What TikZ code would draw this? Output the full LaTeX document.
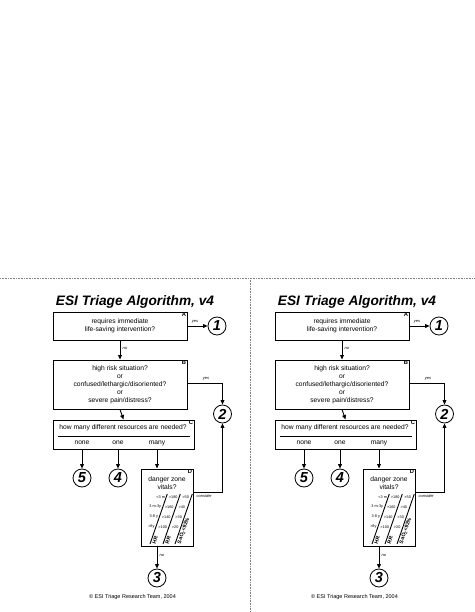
\documentclass[tikz,border=0pt]{standalone}
\usepackage{fontspec}
\setmainfont{Liberation Sans}
\usetikzlibrary{arrows.meta}
\tikzset{
 qbox/.style={draw, line width=1pt, inner sep=0pt, align=center, font=\fontsize{6.7}{8}\selectfont},
 corner/.style={anchor=north east, inner sep=1.2pt, font=\fontsize{5.8}{5.8}\selectfont\bfseries},
 num/.style={circle, draw, line width=0.8pt, minimum size=18pt, inner sep=0pt, font=\fontsize{14.5}{14.5}\selectfont\bfseries\itshape},
 arr/.style={-{Triangle[length=4.5pt,width=3.8pt]}, line width=0.9pt},
 tag/.style={font=\fontsize{4}{4}\selectfont\itshape, inner sep=0.5pt},
 txt/.style={font=\fontsize{6.7}{8}\selectfont, inner sep=0pt, align=center},
 vit/.style={font=\fontsize{3.8}{4}\selectfont, inner sep=0pt},
 vlab/.style={font=\fontsize{5.3}{5.3}\selectfont\bfseries, inner sep=0pt, rotate=71, anchor=north west},
 cut/.style={gray, line width=0.8pt, dash pattern=on 0.7pt off 0.9pt},
 diag/.style={line width=0.9pt},
}
\begin{document}
\begin{tikzpicture}[x=1pt,y=-1pt]
\useasboundingbox (0,0) rectangle (474,612);
\coordinate (h0) at (0,278);
\coordinate (h1) at (474,278);
\coordinate (v0) at (250,278);
\coordinate (v1) at (250,612);
\draw[cut] (h0) -- (h1);
\draw[cut] (v0) -- (v1);
\foreach \ox/\s in {0/L,222/R}{
\begin{scope}[xshift=\ox pt]
\node[font=\fontsize{13.7}{13.7}\selectfont\bfseries\itshape, anchor=base, inner sep=0pt] (title\s) at (135,305) {ESI Triage Algorithm, v4};
% boxes
\node[qbox, minimum width=134pt, minimum height=28pt] (A\s) at (120,326) {requires immediate\\life-saving intervention?};
\node[corner] (Al\s) at (A\s.north east) {A};
\node[qbox, minimum width=134pt, minimum height=49pt] (B\s) at (120,384.5) {high risk situation?\\or\\confused/lethargic/disoriented?\\or\\severe pain/distress?};
\node[corner] (Bl\s) at (B\s.north east) {B};
\node[qbox, minimum width=141pt, minimum height=29pt] (C\s) at (123.5,434.5) {};
\node[corner] (Cl\s) at (C\s.north east) {C};
\node[txt] (Cq\s) at (123,428) {how many different resources are needed?};
\draw[line width=0.6pt] (58,436) -- (190,436);
\node[txt] (no\s) at (82,443) {none};
\node[txt] (on\s) at (118,443) {one};
\node[txt] (m\s) at (157,443) {many};
\node[qbox, minimum width=52pt, minimum height=77pt] (D\s) at (167,507.5) {};
\node[corner] (Dl\s) at (D\s.north east) {D};
\node[txt] (Dq\s) at (167,483) {danger zone\\vitals?};
% vitals table
\draw[diag] (150,544) -- (167.3,494);
\draw[diag] (163,544) -- (180.3,494);
\draw[diag] (175,544) -- (192.3,494);
\node[vit, anchor=east] (r1\s) at (165.2,497) {<3 m};
\node[vit, anchor=east] (r2\s) at (161.3,507) {3 m-3y};
\node[vit, anchor=east] (r3\s) at (158.2,517) {3-8 y};
\node[vit, anchor=east] (r4\s) at (154.7,527) {>8y};
\node[vit] (h1\s) at (173.2,497) {>180};
\node[vit] (h2\s) at (169.3,507) {>160};
\node[vit] (h3\s) at (166.2,517) {>140};
\node[vit] (h4\s) at (162.7,527) {>100};
\node[vit] (s1\s) at (185.7,497) {>50};
\node[vit] (s2\s) at (181.8,507) {>40};
\node[vit] (s3\s) at (178.7,517) {>30};
\node[vit] (s4\s) at (175.2,527) {>20};
\node[vlab] (HR\s) at (151.8,543) {HR};
\node[vlab] (RR\s) at (164.8,543) {RR};
\node[vlab] (Sa\s) at (176.8,543) {SaO\textsubscript{2}<92\%};
% circles
\node[num] (c1\s) at (217,326) {1};
\node[num] (c2\s) at (222.5,414) {2};
\node[num] (c5\s) at (82,478) {5};
\node[num] (c4\s) at (118,478) {4};
\node[num] (c3\s) at (157,578) {3};
% connectors
\draw[arr] (A\s.south) -- (B\s.north);
\node[tag, anchor=west] (tn1\s) at (122,348) {no};
\draw[arr] (A\s.east) -- (c1\s.west);
\node[tag] (ty1\s) at (195,322) {yes};
\draw[arr] ([yshift=1.5pt]B\s.east) -| (c2\s.north);
\node[tag] (ty2\s) at (206,379) {yes};
\draw[arr] (B\s.south) -- (C\s.north);
\draw[arr] (c5\s |- C\s.south) -- (c5\s.north);
\draw[arr] (c4\s |- C\s.south) -- (c4\s.north);
\draw[arr] (m\s |- C\s.south) -- (m\s |- D\s.north);
\draw[arr] ([yshift=15.5pt]D\s.east) -| (c2\s.south);
\node[tag, anchor=north west] (tc\s) at (196,493.5) {consider};
\draw[arr] (c3\s |- D\s.south) -- (c3\s.north);
\node[tag, anchor=west] (tn2\s) at (159,555) {no};
\node[font=\fontsize{5.5}{6}\selectfont, inner sep=0pt] (copy\s) at (132.5,597) {© ESI Triage Research Team, 2004};
\end{scope}
}
\end{tikzpicture}
\end{document}
